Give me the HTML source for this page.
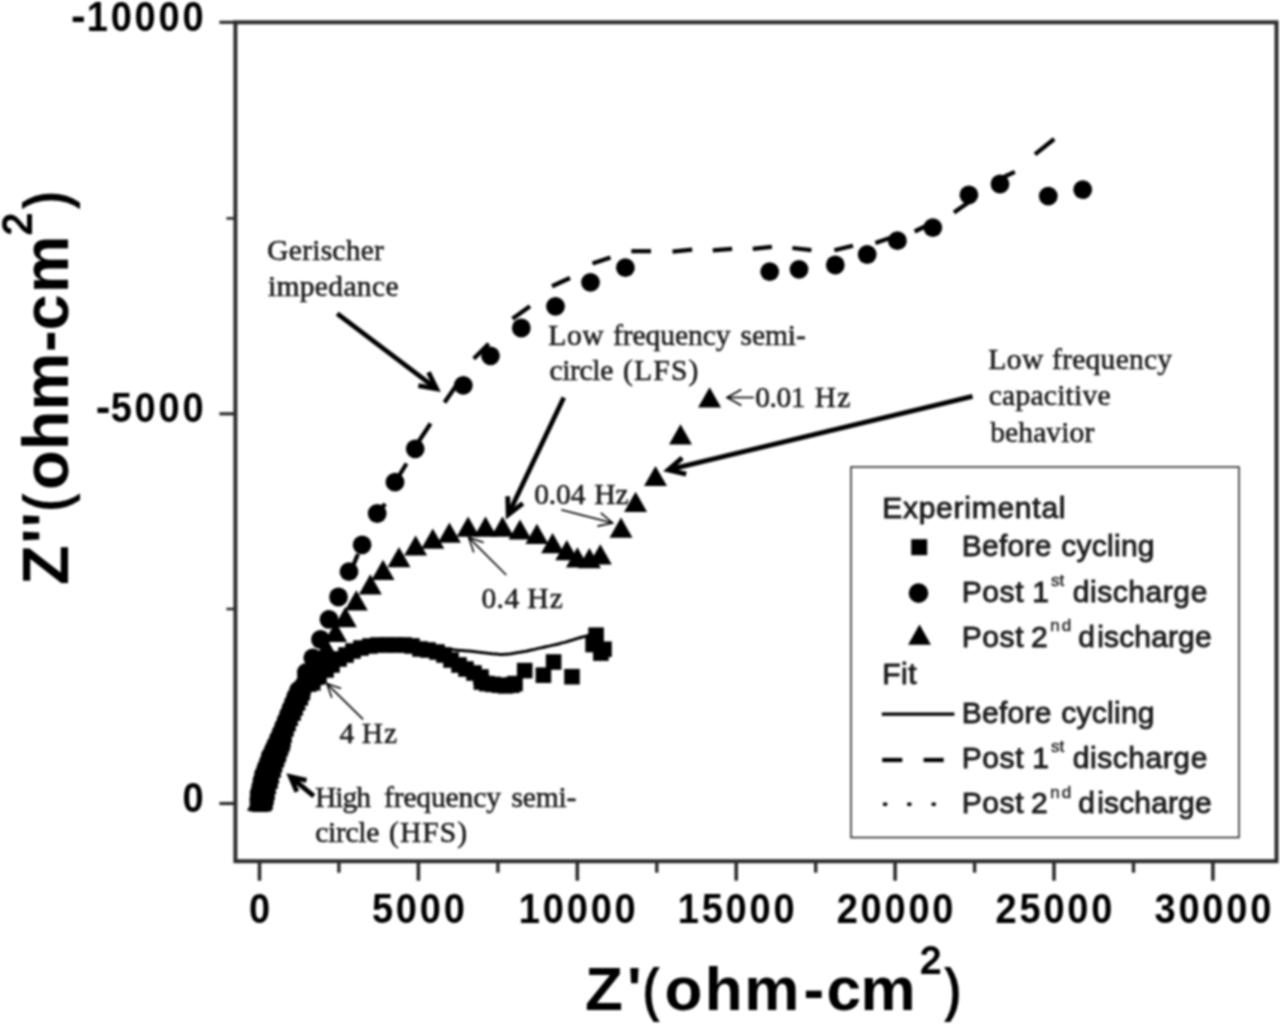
<!DOCTYPE html>
<html><head><meta charset="utf-8"><title>Nyquist plot</title>
<style>
html,body{margin:0;padding:0;background:#fff;}
body{width:1280px;height:1024px;overflow:hidden;}
svg{display:block;}
text{white-space:pre;font-kerning:none;}
.ax{font-family:"Liberation Sans",Arial,sans-serif;font-weight:bold;fill:#000;}
.lg{font-family:"Liberation Sans",Arial,sans-serif;fill:#1c1c1c;stroke:#1c1c1c;stroke-width:0.9px;}
.an{font-family:"Liberation Serif","Times New Roman",serif;fill:#1a1a1a;stroke:#1a1a1a;stroke-width:0.55px;}
</style></head><body>
<svg width="1280" height="1024" viewBox="0 0 1280 1024">
<defs><filter id="soft" color-interpolation-filters="sRGB" x="0" y="0" width="1280" height="1024" filterUnits="userSpaceOnUse"><feGaussianBlur stdDeviation="1.0"/></filter></defs>
<rect width="1280" height="1024" fill="#fff"/>
<g filter="url(#soft)">
<g stroke="#2c2c2c" stroke-width="4.0" fill="none" stroke-linecap="butt">
<rect x="235.4" y="22.3" width="1041.1" height="838.9000000000001"/>
<line x1="259.5" y1="861.2" x2="259.5" y2="880.7" stroke-width="3.6"/>
<line x1="418.4" y1="861.2" x2="418.4" y2="880.7" stroke-width="3.6"/>
<line x1="577.3" y1="861.2" x2="577.3" y2="880.7" stroke-width="3.6"/>
<line x1="736.2" y1="861.2" x2="736.2" y2="880.7" stroke-width="3.6"/>
<line x1="895.1" y1="861.2" x2="895.1" y2="880.7" stroke-width="3.6"/>
<line x1="1054.0" y1="861.2" x2="1054.0" y2="880.7" stroke-width="3.6"/>
<line x1="1212.9" y1="861.2" x2="1212.9" y2="880.7" stroke-width="3.6"/>
<line x1="338.9" y1="861.2" x2="338.9" y2="872.7" stroke-width="3.4"/>
<line x1="497.9" y1="861.2" x2="497.9" y2="872.7" stroke-width="3.4"/>
<line x1="656.8" y1="861.2" x2="656.8" y2="872.7" stroke-width="3.4"/>
<line x1="815.7" y1="861.2" x2="815.7" y2="872.7" stroke-width="3.4"/>
<line x1="974.6" y1="861.2" x2="974.6" y2="872.7" stroke-width="3.4"/>
<line x1="1133.5" y1="861.2" x2="1133.5" y2="872.7" stroke-width="3.4"/>
<line x1="219.4" y1="803.5" x2="235.4" y2="803.5" stroke-width="3.2"/>
<line x1="219.4" y1="413.8" x2="235.4" y2="413.8" stroke-width="3.2"/>
<line x1="219.4" y1="22.3" x2="235.4" y2="22.3" stroke-width="3.2"/>
<line x1="226.4" y1="609.0" x2="235.4" y2="609.0" stroke-width="2.6"/>
<line x1="226.4" y1="218.4" x2="235.4" y2="218.4" stroke-width="2.6"/>
</g>
<text class="ax" transform="translate(260.89,922.8) scale(0.91,1)" font-size="41.8" letter-spacing="3.05" text-anchor="middle">0</text>
<text class="ax" transform="translate(419.79,922.8) scale(0.91,1)" font-size="41.8" letter-spacing="3.05" text-anchor="middle">5000</text>
<text class="ax" transform="translate(578.69,922.8) scale(0.91,1)" font-size="41.8" letter-spacing="3.05" text-anchor="middle">10000</text>
<text class="ax" transform="translate(737.59,922.8) scale(0.91,1)" font-size="41.8" letter-spacing="3.05" text-anchor="middle">15000</text>
<text class="ax" transform="translate(896.49,922.8) scale(0.91,1)" font-size="41.8" letter-spacing="3.05" text-anchor="middle">20000</text>
<text class="ax" transform="translate(1055.39,922.8) scale(0.91,1)" font-size="41.8" letter-spacing="3.05" text-anchor="middle">25000</text>
<text class="ax" transform="translate(1214.29,922.8) scale(0.91,1)" font-size="41.8" letter-spacing="3.05" text-anchor="middle">30000</text>
<text class="ax" transform="translate(206.38,811.7) scale(0.91,1)" font-size="41.8" letter-spacing="3.05" text-anchor="end">0</text>
<text class="ax" transform="translate(206.38,422.1) scale(0.91,1)" font-size="41.8" letter-spacing="3.05" text-anchor="end">5000</text>
<text class="ax" x="95.68" y="422.1" font-size="44">-</text>
<text class="ax" transform="translate(206.38,30.5) scale(0.91,1)" font-size="41.8" letter-spacing="3.05" text-anchor="end">10000</text>
<text class="ax" x="70.98" y="30.5" font-size="44">-</text>
<text class="ax" font-size="62" y="1010.2"><tspan x="585.05" dy="0">Z</tspan><tspan x="626.90" dy="0">&#39;</tspan><tspan x="640.91" dy="0" stroke="#fff" stroke-width="2.0">(</tspan><tspan x="664.48" dy="0">o</tspan><tspan x="704.67" dy="0">h</tspan><tspan x="744.31" dy="0">m</tspan><tspan x="803.48" dy="0">-</tspan><tspan x="826.38" dy="0">c</tspan><tspan x="860.61" dy="0">m</tspan><tspan x="920.21" dy="-37" font-size="37.5" font-weight="normal" stroke="#000" stroke-width="1.8">2</tspan><tspan x="942.34" dy="37" stroke="#fff" stroke-width="2.0">)</tspan></text>
<g transform="translate(68,584) rotate(-90)">
<text class="ax" font-size="65" y="0"><tspan x="-1.14" dy="0">Z</tspan><tspan x="40.34" dy="0">&#39;</tspan><tspan x="56.54" dy="0">&#39;</tspan><tspan x="70.76" dy="0" stroke="#fff" stroke-width="2.0">(</tspan><tspan x="93.96" dy="0">o</tspan><tspan x="133.86" dy="0">h</tspan><tspan x="173.62" dy="0">m</tspan><tspan x="232.06" dy="0">-</tspan><tspan x="253.46" dy="0">c</tspan><tspan x="290.72" dy="0">m</tspan><tspan x="348.79" dy="-37" font-size="40" font-weight="normal" stroke="#000" stroke-width="1.8">2</tspan><tspan x="373.04" dy="37" stroke="#fff" stroke-width="2.0">)</tspan></text>
</g>
<polyline fill="none" stroke="#000" stroke-width="3.0" points="425.0,643.5 427.0,644.2 429.1,644.8 431.1,645.4 433.2,646.0 435.2,646.5 437.3,647.0 439.4,647.4 441.5,647.8 443.6,648.2 445.7,648.5 447.8,648.9 449.9,649.2 452.0,649.5 454.1,649.8 456.2,650.0 458.3,650.2 460.4,650.4 462.6,650.6 464.7,650.8 466.8,651.0 468.9,651.1 471.1,651.3 473.2,651.5 475.3,651.7 477.4,652.0 479.5,652.2 481.6,652.4 483.8,652.7 485.9,652.9 488.0,653.2 490.1,653.4 492.2,653.7 494.4,653.9 496.5,654.1 498.6,654.3 500.7,654.4 502.8,654.4 505.0,654.3 507.1,654.2 509.2,653.9 511.3,653.7 513.4,653.3 515.5,653.0 517.6,652.6 519.7,652.3 521.8,651.9 523.9,651.6 526.0,651.2 528.1,650.7 530.2,650.3 532.3,649.8 534.4,649.4 536.4,648.9 538.5,648.4 540.6,647.9 542.7,647.5 544.7,647.0 546.8,646.5 548.9,646.1 551.0,645.6 553.1,645.1 555.1,644.7 557.2,644.2 559.3,643.7 561.3,643.1 563.4,642.6 565.5,642.1 567.5,641.5 569.5,640.9 571.6,640.3 573.6,639.6 575.6,639.0 577.7,638.4 579.7,637.8 581.8,637.2 583.8,636.6 585.9,636.1 587.9,635.5 590.0,635.0"/>
<g stroke="#000" stroke-width="4.2" stroke-linecap="butt">
<line x1="353" y1="566" x2="358" y2="554"/>
<line x1="378.9" y1="510.4" x2="385.3" y2="504"/>
<line x1="399.4" y1="475.2" x2="406.6" y2="463.5"/>
<line x1="417" y1="444" x2="430.6" y2="423.5"/>
<line x1="444.5" y1="402.5" x2="458" y2="383"/>
<line x1="473.75" y1="358.75" x2="488.75" y2="343.75"/>
<line x1="512.5" y1="318.75" x2="530" y2="306.25"/>
<line x1="552" y1="286.25" x2="570" y2="278"/>
<line x1="592.5" y1="263.5" x2="610.5" y2="257.5"/>
<line x1="631.3" y1="251.2" x2="651" y2="251.2"/>
<line x1="672.5" y1="251.6" x2="692.2" y2="249.7"/>
<line x1="712.8" y1="250.3" x2="732.1" y2="248.8"/>
<line x1="752.8" y1="248.8" x2="771.9" y2="246.9"/>
<line x1="792.4" y1="248" x2="811.4" y2="250.2"/>
<line x1="834.4" y1="250.2" x2="853" y2="245.7"/>
<line x1="875.4" y1="243" x2="893" y2="237"/>
<line x1="914.7" y1="231.5" x2="932" y2="223"/>
<line x1="954" y1="212.5" x2="972" y2="200"/>
<line x1="993" y1="182" x2="1014.8" y2="171.8"/>
<line x1="1035" y1="154.4" x2="1054.2" y2="139"/>
</g>
<g fill="#000" stroke="none">
<rect x="249.7" y="796.0" width="15.6" height="15.6"/>
<rect x="252.7" y="796.4" width="15.6" height="15.6"/>
<rect x="255.7" y="796.0" width="15.6" height="15.6"/>
<rect x="257.2" y="794.2" width="15.6" height="15.6"/>
<rect x="258.2" y="789.2" width="15.6" height="15.6"/>
<rect x="259.2" y="784.2" width="15.6" height="15.6"/>
<rect x="260.2" y="778.2" width="15.6" height="15.6"/>
<rect x="262.2" y="773.2" width="15.6" height="15.6"/>
<rect x="263.2" y="768.2" width="15.6" height="15.6"/>
<rect x="265.2" y="762.2" width="15.6" height="15.6"/>
<rect x="266.2" y="757.2" width="15.6" height="15.6"/>
<rect x="268.2" y="752.2" width="15.6" height="15.6"/>
<rect x="270.2" y="747.2" width="15.6" height="15.6"/>
<rect x="272.2" y="741.2" width="15.6" height="15.6"/>
<rect x="274.2" y="736.2" width="15.6" height="15.6"/>
<rect x="275.2" y="731.2" width="15.6" height="15.6"/>
<rect x="276.2" y="726.2" width="15.6" height="15.6"/>
<rect x="278.2" y="720.2" width="15.6" height="15.6"/>
<rect x="280.2" y="715.2" width="15.6" height="15.6"/>
<rect x="282.2" y="710.2" width="15.6" height="15.6"/>
<rect x="285.2" y="705.2" width="15.6" height="15.6"/>
<rect x="287.2" y="700.2" width="15.6" height="15.6"/>
<rect x="289.2" y="695.2" width="15.6" height="15.6"/>
<rect x="292.2" y="690.2" width="15.6" height="15.6"/>
<rect x="294.2" y="685.2" width="15.6" height="15.6"/>
<rect x="295.2" y="680.2" width="15.6" height="15.6"/>
<rect x="297.2" y="675.2" width="15.6" height="15.6"/>
<rect x="301.2" y="676.2" width="15.6" height="15.6"/>
<rect x="305.2" y="672.2" width="15.6" height="15.6"/>
<rect x="309.2" y="669.2" width="15.6" height="15.6"/>
<rect x="311.2" y="668.2" width="15.6" height="15.6"/>
<rect x="318.2" y="662.2" width="15.6" height="15.6"/>
<rect x="324.2" y="657.2" width="15.6" height="15.6"/>
<rect x="331.2" y="651.2" width="15.6" height="15.6"/>
<rect x="338.2" y="647.2" width="15.6" height="15.6"/>
<rect x="345.2" y="643.2" width="15.6" height="15.6"/>
<rect x="353.2" y="640.2" width="15.6" height="15.6"/>
<rect x="362.2" y="638.2" width="15.6" height="15.6"/>
<rect x="370.2" y="637.2" width="15.6" height="15.6"/>
<rect x="379.2" y="637.2" width="15.6" height="15.6"/>
<rect x="387.2" y="637.2" width="15.6" height="15.6"/>
<rect x="396.2" y="637.2" width="15.6" height="15.6"/>
<rect x="404.2" y="638.2" width="15.6" height="15.6"/>
<rect x="412.2" y="641.2" width="15.6" height="15.6"/>
<rect x="420.2" y="642.2" width="15.6" height="15.6"/>
<rect x="429.2" y="644.2" width="15.6" height="15.6"/>
<rect x="436.2" y="647.2" width="15.6" height="15.6"/>
<rect x="443.2" y="652.2" width="15.6" height="15.6"/>
<rect x="451.2" y="657.2" width="15.6" height="15.6"/>
<rect x="458.2" y="661.2" width="15.6" height="15.6"/>
<rect x="466.2" y="665.2" width="15.6" height="15.6"/>
<rect x="473.2" y="669.2" width="15.6" height="15.6"/>
<rect x="473.6" y="674.2" width="15.6" height="15.6"/>
<rect x="479.1" y="675.8" width="15.6" height="15.6"/>
<rect x="485.2" y="676.6" width="15.6" height="15.6"/>
<rect x="491.6" y="677.4" width="15.6" height="15.6"/>
<rect x="497.8" y="678.1" width="15.6" height="15.6"/>
<rect x="504.1" y="677.4" width="15.6" height="15.6"/>
<rect x="507.2" y="675.8" width="15.6" height="15.6"/>
<rect x="516.9" y="662.8" width="15.6" height="15.6"/>
<rect x="535.6" y="667.4" width="15.6" height="15.6"/>
<rect x="545.8" y="654.2" width="15.6" height="15.6"/>
<rect x="564.2" y="668.9" width="15.6" height="15.6"/>
<rect x="588.3" y="627.4" width="15.6" height="15.6"/>
<rect x="585.3" y="636.7" width="15.6" height="15.6"/>
<rect x="593.1" y="645.3" width="15.6" height="15.6"/>
<rect x="596.2" y="641.4" width="15.6" height="15.6"/>
<circle cx="259.0" cy="799.5" r="9.4"/>
<circle cx="259.1" cy="793.0" r="9.4"/>
<circle cx="260.7" cy="786.7" r="9.4"/>
<circle cx="262.0" cy="780.4" r="9.4"/>
<circle cx="263.6" cy="774.1" r="9.4"/>
<circle cx="265.9" cy="768.0" r="9.4"/>
<circle cx="268.3" cy="762.0" r="9.4"/>
<circle cx="270.4" cy="755.8" r="9.4"/>
<circle cx="273.2" cy="749.9" r="9.4"/>
<circle cx="276.0" cy="744.1" r="9.4"/>
<circle cx="278.7" cy="738.2" r="9.4"/>
<circle cx="281.3" cy="732.2" r="9.4"/>
<circle cx="283.8" cy="726.2" r="9.4"/>
<circle cx="286.3" cy="720.2" r="9.4"/>
<circle cx="288.7" cy="714.2" r="9.4"/>
<circle cx="291.1" cy="708.1" r="9.4"/>
<circle cx="293.6" cy="702.1" r="9.4"/>
<circle cx="296.0" cy="696.1" r="9.4"/>
<circle cx="298.7" cy="690.2" r="9.4"/>
<circle cx="306.3" cy="672.5" r="9.4"/>
<circle cx="312.8" cy="657.8" r="9.4"/>
<circle cx="320.5" cy="639.5" r="9.4"/>
<circle cx="329.0" cy="619.4" r="9.4"/>
<circle cx="338.5" cy="597.0" r="9.4"/>
<circle cx="349.0" cy="571.7" r="9.4"/>
<circle cx="362.1" cy="544.8" r="9.4"/>
<circle cx="377.2" cy="513.5" r="9.4"/>
<circle cx="395.0" cy="482.2" r="9.4"/>
<circle cx="415.2" cy="448.8" r="9.4"/>
<circle cx="463.3" cy="385.3" r="9.4"/>
<circle cx="490.5" cy="355.8" r="9.4"/>
<circle cx="521.3" cy="328.0" r="9.4"/>
<circle cx="555.5" cy="306.3" r="9.4"/>
<circle cx="590.5" cy="282.3" r="9.4"/>
<circle cx="625.4" cy="267.7" r="9.4"/>
<circle cx="769.7" cy="271.6" r="9.4"/>
<circle cx="799.0" cy="269.3" r="9.4"/>
<circle cx="835.3" cy="265.0" r="9.4"/>
<circle cx="867.2" cy="254.5" r="9.4"/>
<circle cx="897.4" cy="240.7" r="9.4"/>
<circle cx="932.8" cy="227.6" r="9.4"/>
<circle cx="968.9" cy="194.8" r="9.4"/>
<circle cx="1000.0" cy="184.0" r="9.4"/>
<circle cx="1048.3" cy="196.1" r="9.4"/>
<circle cx="1082.7" cy="189.6" r="9.4"/>
<polygon points="258.4,790.5 246.9,810.7 269.9,810.7"/>
<polygon points="261.5,785.3 250.0,805.5 273.0,805.5"/>
<polygon points="263.7,779.8 252.2,800.0 275.2,800.0"/>
<polygon points="265.1,773.9 253.6,794.1 276.6,794.1"/>
<polygon points="266.5,768.1 255.0,788.3 278.0,788.3"/>
<polygon points="268.1,762.3 256.6,782.5 279.6,782.5"/>
<polygon points="269.8,756.6 258.3,776.8 281.3,776.8"/>
<polygon points="271.6,750.9 260.1,771.1 283.1,771.1"/>
<polygon points="273.6,745.2 262.1,765.4 285.1,765.4"/>
<polygon points="275.7,739.6 264.2,759.8 287.2,759.8"/>
<polygon points="277.6,733.9 266.1,754.1 289.1,754.1"/>
<polygon points="279.4,728.2 267.9,748.4 290.9,748.4"/>
<polygon points="280.7,722.3 269.2,742.5 292.2,742.5"/>
<polygon points="282.3,716.5 270.8,736.7 293.8,736.7"/>
<polygon points="284.7,711.0 273.2,731.2 296.2,731.2"/>
<polygon points="287.1,705.5 275.6,725.7 298.6,725.7"/>
<polygon points="289.4,700.0 277.9,720.2 300.9,720.2"/>
<polygon points="292.0,694.6 280.5,714.8 303.5,714.8"/>
<polygon points="294.7,689.2 283.2,709.4 306.2,709.4"/>
<polygon points="297.2,683.8 285.7,704.0 308.7,704.0"/>
<polygon points="299.4,678.2 287.9,698.4 310.9,698.4"/>
<polygon points="300.6,672.3 289.1,692.5 312.1,692.5"/>
<polygon points="304.8,670.8 293.3,691.0 316.3,691.0"/>
<polygon points="309.8,670.4 298.3,690.6 321.3,690.6"/>
<polygon points="311.9,664.8 300.4,685.0 323.4,685.0"/>
<polygon points="314.5,659.4 303.0,679.6 326.0,679.6"/>
<polygon points="317.6,654.2 306.1,674.4 329.1,674.4"/>
<polygon points="320.6,649.1 309.1,669.3 332.1,669.3"/>
<polygon points="323.6,643.8 312.1,664.0 335.1,664.0"/>
<polygon points="326.6,638.3 315.1,658.5 338.1,658.5"/>
<polygon points="335.6,621.8 324.1,642.0 347.1,642.0"/>
<polygon points="345.3,607.0 333.8,627.2 356.8,627.2"/>
<polygon points="356.3,590.2 344.8,610.4 367.8,610.4"/>
<polygon points="370.3,574.2 358.8,594.4 381.8,594.4"/>
<polygon points="383.0,559.8 371.5,580.0 394.5,580.0"/>
<polygon points="399.0,547.0 387.5,567.2 410.5,567.2"/>
<polygon points="415.6,535.4 404.1,555.6 427.1,555.6"/>
<polygon points="432.8,528.5 421.3,548.7 444.3,548.7"/>
<polygon points="449.4,522.5 437.9,542.7 460.9,542.7"/>
<polygon points="468.1,516.5 456.6,536.7 479.6,536.7"/>
<polygon points="485.5,516.5 474.0,536.7 497.0,536.7"/>
<polygon points="502.5,516.5 491.0,536.7 514.0,536.7"/>
<polygon points="520.0,519.4 508.5,539.6 531.5,539.6"/>
<polygon points="536.9,523.8 525.4,544.0 548.4,544.0"/>
<polygon points="552.6,533.1 541.1,553.3 564.1,553.3"/>
<polygon points="566.8,540.0 555.3,560.2 578.3,560.2"/>
<polygon points="577.4,547.2 565.9,567.4 588.9,567.4"/>
<polygon points="589.4,548.0 577.9,568.2 600.9,568.2"/>
<polygon points="600.3,544.3 588.8,564.5 611.8,564.5"/>
<polygon points="621.0,517.5 609.5,537.7 632.5,537.7"/>
<polygon points="635.6,491.7 624.1,511.9 647.1,511.9"/>
<polygon points="655.5,465.9 644.0,486.1 667.0,486.1"/>
<polygon points="680.5,424.2 669.0,444.4 692.0,444.4"/>
<polygon points="709.6,387.2 698.1,407.4 721.1,407.4"/>
</g>
<text class="an" x="267.29" y="260.4" font-size="29.5" letter-spacing="0.239" >Gerischer</text>
<text class="an" x="267.88" y="295.7" font-size="29.5" letter-spacing="0.359" >impedance</text>
<text class="an" x="548.35" y="344.8" font-size="29.5" letter-spacing="0.553" >Low</text>
<text class="an" x="612.99" y="344.8" font-size="29.5" letter-spacing="-0.063" >frequency</text>
<text class="an" x="740.49" y="344.8" font-size="29.5" letter-spacing="-0.066" >semi-</text>
<text class="an" x="549.38" y="379.8" font-size="29.5" letter-spacing="-0.330" >circle</text>
<text class="an" x="622.90" y="379.8" font-size="29.5" letter-spacing="1.253" >(LFS)</text>
<text class="an" x="988.15" y="368.6" font-size="29.5" letter-spacing="0.553" >Low</text>
<text class="an" x="1052.09" y="368.6" font-size="29.5" letter-spacing="0.262" >frequency</text>
<text class="an" x="988.68" y="404.8" font-size="29.5" letter-spacing="0.266" >capacitive</text>
<text class="an" x="990.20" y="441.5" font-size="29.5" letter-spacing="0.122" >behavior</text>
<text class="an" x="315.05" y="807.3" font-size="29.5" letter-spacing="-1.020" >High</text>
<text class="an" x="383.99" y="807.3" font-size="29.5" letter-spacing="-0.126" >frequency</text>
<text class="an" x="511.59" y="807.3" font-size="29.5" letter-spacing="-0.216" >semi-</text>
<text class="an" x="315.28" y="842.2" font-size="29.5" letter-spacing="-0.290" >circle</text>
<text class="an" x="389.00" y="842.2" font-size="29.5" letter-spacing="1.082" >(HFS)</text>
<text class="an" x="755.13" y="406.9" font-size="29.5" letter-spacing="-0.410" >0.01</text>
<text class="an" x="814.75" y="406.9" font-size="29.5" letter-spacing="1.073" >Hz</text>
<text class="an" x="534.13" y="504" font-size="29.5" letter-spacing="-0.097" >0.04</text>
<text class="an" x="594.15" y="504" font-size="29.5" letter-spacing="0.023" >Hz</text>
<text class="an" x="481.38" y="608.1" font-size="29.5" letter-spacing="0.480" >0.4</text>
<text class="an" x="527.25" y="608.1" font-size="29.5" letter-spacing="1.073" >Hz</text>
<text class="an" x="339.42" y="742.7" font-size="29.5" letter-spacing="0.000" >4</text>
<text class="an" x="361.65" y="742.7" font-size="29.5" letter-spacing="1.023" >Hz</text>
<line x1="337.2" y1="313.7" x2="436.6" y2="388.9" stroke="#000" stroke-width="4.8" stroke-linecap="butt"/><polyline points="418.4,385.6 436.6,388.9 428.5,372.2" fill="none" stroke="#000" stroke-width="4.8" stroke-linejoin="miter" stroke-linecap="butt"/>
<line x1="563.8" y1="397.5" x2="508.2" y2="514.7" stroke="#000" stroke-width="4.8" stroke-linecap="butt"/><polyline points="507.7,496.2 508.2,514.7 522.8,503.4" fill="none" stroke="#000" stroke-width="4.8" stroke-linejoin="miter" stroke-linecap="butt"/>
<line x1="972.5" y1="396.3" x2="668.2" y2="469.9" stroke="#000" stroke-width="4.8" stroke-linecap="butt"/><polyline points="682.2,457.9 668.2,469.9 686.2,474.2" fill="none" stroke="#000" stroke-width="4.8" stroke-linejoin="miter" stroke-linecap="butt"/>
<line x1="313.8" y1="796.2" x2="290.4" y2="776.6" stroke="#000" stroke-width="4.8" stroke-linecap="butt"/><polyline points="306.5,780.4 290.4,776.6 296.9,791.8" fill="none" stroke="#000" stroke-width="4.8" stroke-linejoin="miter" stroke-linecap="butt"/>
<line x1="561.2" y1="509.8" x2="612.6" y2="523.0" stroke="#000" stroke-width="1.6" stroke-linecap="butt"/><polyline points="597.4,526.1 612.6,523.0 600.8,512.9" fill="none" stroke="#000" stroke-width="1.6" stroke-linejoin="miter" stroke-linecap="butt"/>
<line x1="506.2" y1="575.0" x2="468.6" y2="537.4" stroke="#000" stroke-width="1.6" stroke-linecap="butt"/><polyline points="483.7,542.6 468.6,537.4 473.8,552.5" fill="none" stroke="#000" stroke-width="1.6" stroke-linejoin="miter" stroke-linecap="butt"/>
<line x1="363.1" y1="719.4" x2="326.8" y2="683.6" stroke="#000" stroke-width="1.6" stroke-linecap="butt"/><polyline points="341.0,688.4 326.8,683.6 331.8,697.7" fill="none" stroke="#000" stroke-width="1.6" stroke-linejoin="miter" stroke-linecap="butt"/>
<line x1="753.8" y1="397.5" x2="727.0" y2="397.5" stroke="#000" stroke-width="1.6" stroke-linecap="butt"/><polyline points="741.4,389.5 727.0,397.5 741.4,405.5" fill="none" stroke="#000" stroke-width="1.6" stroke-linejoin="miter" stroke-linecap="butt"/>
<rect x="851" y="467" width="388" height="370.5" fill="#fff" stroke="#111" stroke-width="1.4"/>
<text class="lg" x="882.14" y="518.2" font-size="30.0" letter-spacing="0.754" >Experimental</text>
<text class="lg" x="961.74" y="556.3" font-size="30.0" letter-spacing="0.241" >Before</text>
<text class="lg" x="1061.33" y="556.3" font-size="30.0" letter-spacing="0.251" >cycling</text>
<text class="lg" x="961.74" y="601.6" font-size="30.0" letter-spacing="0.584" >Post</text>
<text class="lg" x="1032.21" y="601.6" font-size="30.0" letter-spacing="0.000" >1</text>
<text class="lg" x="1050.93" y="586.1" font-size="17" letter-spacing="-0.025" style="stroke-width:0.4px">st</text>
<text class="lg" x="1072.64" y="601.6" font-size="30.0" letter-spacing="0.577" >discharge</text>
<text class="lg" x="961.74" y="646.8" font-size="30.0" letter-spacing="0.584" >Post</text>
<text class="lg" x="1030.99" y="646.8" font-size="30.0" letter-spacing="0.000" >2</text>
<text class="lg" x="1050.27" y="631.3" font-size="17" letter-spacing="2.115" style="stroke-width:0.4px">nd</text>
<text class="lg" x="1078.24" y="646.8" font-size="30.0" letter-spacing="0.000" >d</text>
<text class="lg" x="1097.19" y="646.8" font-size="30.0" letter-spacing="0.149" >ischarge</text>
<text class="lg" x="882.14" y="683.8" font-size="30.0" letter-spacing="0.578" >Fit</text>
<text class="lg" x="961.74" y="722.6" font-size="30.0" letter-spacing="0.241" >Before</text>
<text class="lg" x="1061.33" y="722.6" font-size="30.0" letter-spacing="0.251" >cycling</text>
<text class="lg" x="961.74" y="767.6" font-size="30.0" letter-spacing="0.584" >Post</text>
<text class="lg" x="1032.21" y="767.6" font-size="30.0" letter-spacing="0.000" >1</text>
<text class="lg" x="1050.93" y="752.1" font-size="17" letter-spacing="-0.025" style="stroke-width:0.4px">st</text>
<text class="lg" x="1072.64" y="767.6" font-size="30.0" letter-spacing="0.577" >discharge</text>
<text class="lg" x="961.74" y="813.4" font-size="30.0" letter-spacing="0.584" >Post</text>
<text class="lg" x="1030.99" y="813.4" font-size="30.0" letter-spacing="0.000" >2</text>
<text class="lg" x="1050.27" y="797.9" font-size="17" letter-spacing="2.115" style="stroke-width:0.4px">nd</text>
<text class="lg" x="1078.24" y="813.4" font-size="30.0" letter-spacing="0.000" >d</text>
<text class="lg" x="1097.19" y="813.4" font-size="30.0" letter-spacing="0.149" >ischarge</text>
<g fill="#000">
<rect x="911.2" y="539.2" width="16.0" height="16.0"/>
<circle cx="918.5" cy="593.1" r="9.8"/>
<polygon points="919.5,624.5 908.1,644.7 930.9,644.7"/>
</g>
<line x1="881.8" y1="714.1" x2="954.4" y2="714.1" stroke="#000" stroke-width="3.4"/>
<line x1="882.2" y1="760.0" x2="902.3" y2="760.0" stroke="#000" stroke-width="4.2"/>
<line x1="923.6" y1="760.0" x2="943.7" y2="760.0" stroke="#000" stroke-width="4.2"/>
<rect x="882.9" y="802.4000000000001" width="4.4" height="3.6" rx="1.2" fill="#000"/>
<rect x="907.0999999999999" y="802.4000000000001" width="4.4" height="3.6" rx="1.2" fill="#000"/>
<rect x="931.5" y="802.4000000000001" width="4.4" height="3.6" rx="1.2" fill="#000"/>
</g>
</svg>
</body></html>
